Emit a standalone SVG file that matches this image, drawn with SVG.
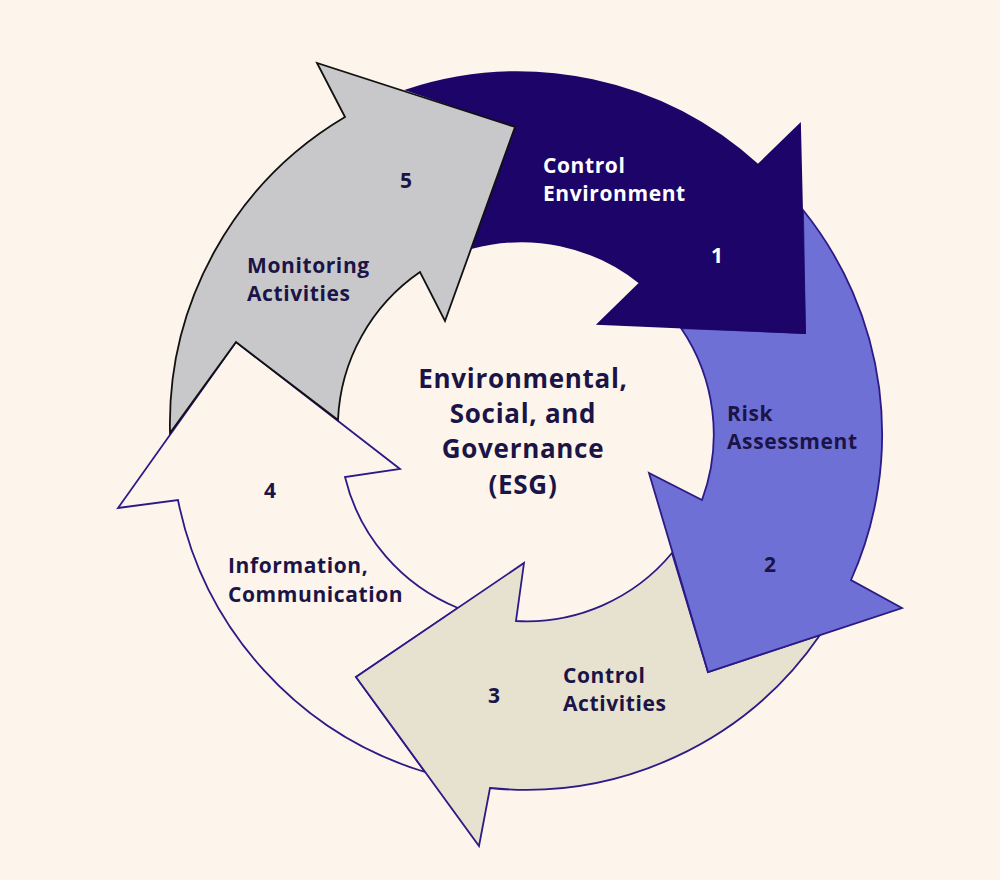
<svg xmlns="http://www.w3.org/2000/svg" width="1000" height="880" viewBox="0 0 1000 880">
<style>
.arrow{stroke-width:1.8;stroke-linejoin:miter}
.a1{fill:#1d0468;stroke:#1d0468}
.a2{fill:#6f70d6;stroke:#2c1a86}
.a3{fill:#e7e1d0;stroke:#2c1a86}
.a4{fill:#fdf5eb;stroke:#2c1a86}
.a5{fill:#c8c8cb;stroke:#111111}
.lbl{font-family:"Open Sans","Liberation Sans",sans-serif;font-weight:700;font-size:21px;fill:#1b1446;letter-spacing:0.6px}
.num{font-family:"Open Sans","Liberation Sans",sans-serif;font-weight:700;font-size:21px;fill:#1b1446;text-anchor:middle}
.white{fill:#ffffff}
.center{font-family:"Open Sans","Liberation Sans",sans-serif;font-weight:700;font-size:26px;fill:#1b1446;text-anchor:middle;letter-spacing:0.7px}
</style>
<rect width="1000" height="880" fill="#fdf5eb"/>
<g id="connectors"></g>
<g id="step4">
<path class="arrow a4" d="M 425 772 A 357 357 0 0 1 178 500 L 118 508 L 236 342 L 400 469 L 345 477 A 189 189 0 0 0 458 608 L 356 677 Z"/>
<text class="num" x="270" y="498">4</text>
<text class="lbl" x="228" y="573">Information,</text>
<text class="lbl" x="228" y="602">Communication</text>
</g>
<g id="step3">
<path class="arrow a3" d="M 820 635 A 357 357 0 0 1 490 788 L 479 846 L 356 677 L 524 563 L 516 621 A 189 189 0 0 0 672 553 L 708 672 Z"/>
<text class="num" x="494" y="703">3</text>
<text class="lbl" x="563" y="683">Control</text>
<text class="lbl" x="563" y="711">Activities</text>
</g>
<g id="step2">
<path class="arrow a2" d="M 803 210 A 357 357 0 0 1 851 580 L 902 608 L 708 672 L 649 473 L 702 500 A 189 189 0 0 0 681 328 L 805 333 Z"/>
<text class="num" x="770" y="572">2</text>
<text class="lbl" x="727" y="421">Risk</text>
<text class="lbl" x="727" y="449">Assessment</text>
</g>
<g id="step1">
<path class="arrow a1" d="M 407 90 A 357 357 0 0 1 758 165 L 800 124 L 805 333 L 598 324 L 640 283 A 189 189 0 0 0 472 248 L 515 127 Z"/>
<text class="num white" x="717" y="263">1</text>
<text class="lbl white" x="543" y="173">Control</text>
<text class="lbl white" x="543" y="201">Environment</text>
</g>
<g id="step5">
<path class="arrow a5" d="M 170 433 A 357 357 0 0 1 345 117 L 317 63 L 515 127 L 445 321 L 420 272 A 189 189 0 0 0 338 420 L 236 342 Z"/>
<text class="num" x="406" y="188">5</text>
<text class="lbl" x="247" y="273">Monitoring</text>
<text class="lbl" x="247" y="301">Activities</text>
</g>
<g id="center">
<text class="center" x="523" y="388">Environmental,</text>
<text class="center" x="523" y="423">Social, and</text>
<text class="center" x="523" y="458">Governance</text>
<text class="center" x="523" y="494">(ESG)</text>
</g>
</svg>
